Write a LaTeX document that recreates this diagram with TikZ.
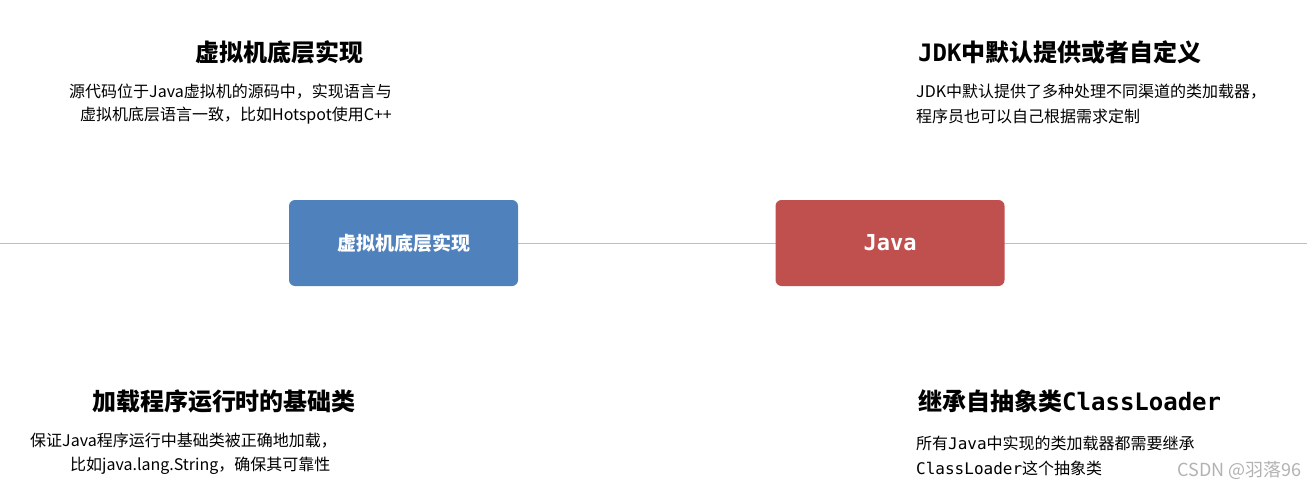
\documentclass[tikz,border=0pt]{standalone}
\usepackage{fontspec}
\setmainfont{Noto Sans CJK SC}
\newfontfamily\cjk{Noto Sans CJK SC}
\newfontfamily\mono{DejaVu Sans Mono}
\definecolor{bluebox}{HTML}{4F81BD}
\definecolor{redbox}{HTML}{C0504D}
\tikzset{
  box/.style={rounded corners=6pt, minimum width=229pt, minimum height=86pt, text=white, font=\bfseries\fontsize{19}{22}\selectfont},
  ttl/.style={font=\bfseries\fontsize{24}{28}\selectfont, inner sep=0pt},
  body/.style={font=\fontsize{16}{19}\selectfont, inner sep=0pt},
}
\begin{document}
\begin{tikzpicture}[x=1pt,y=-1pt]
\useasboundingbox (0,0) rectangle (1307,495);
\draw[gray!50, line width=0.8pt] (0,243) -- (1307,243);
\node[box, fill=bluebox] (b1) at (403.5,243) {虚拟机底层实现};
\node[box, fill=redbox, font=\mono\bfseries\fontsize{22}{26}\selectfont] (b2) at (890,243) {Java};

\node[ttl] (t1) at (279,52) {虚拟机底层实现};
\node[body, anchor=east] (t1a) at (392,92) {源代码位于Java虚拟机的源码中，实现语言与};
\node[body, anchor=east] (t1b) at (392,116) {虚拟机底层语言一致，比如Hotspot使用C++};

\node[ttl, anchor=west] (t2) at (918,52) {{\mono JDK}中默认提供或者自定义};
\node[body, anchor=west] (t2a) at (916,92) {JDK中默认提供了多种处理不同渠道的类加载器，};
\node[body, anchor=west] (t2b) at (916,116) {程序员也可以自己根据需求定制};

\node[ttl] (t3) at (224,401) {加载程序运行时的基础类};
\node[body, anchor=west] (t3a) at (30,441) {保证Java程序运行中基础类被正确地加载，};
\node[body, anchor=west] (t3b) at (70,466) {比如java.lang.String，确保其可靠性};

\node[ttl, anchor=west] (t4) at (918,401) {继承自抽象类{\mono ClassLoader}};
\node[body, anchor=west] (t4a) at (916,443) {所有{\mono Java}中实现的类加载器都需要继承};
\node[body, anchor=west] (t4b) at (916,468) {{\mono ClassLoader}这个抽象类};

\node[anchor=east, text=gray!60, font=\fontsize{18}{20}\selectfont, inner sep=0pt] (wm) at (1302,470) {CSDN @羽落96};
\end{tikzpicture}
\end{document}
